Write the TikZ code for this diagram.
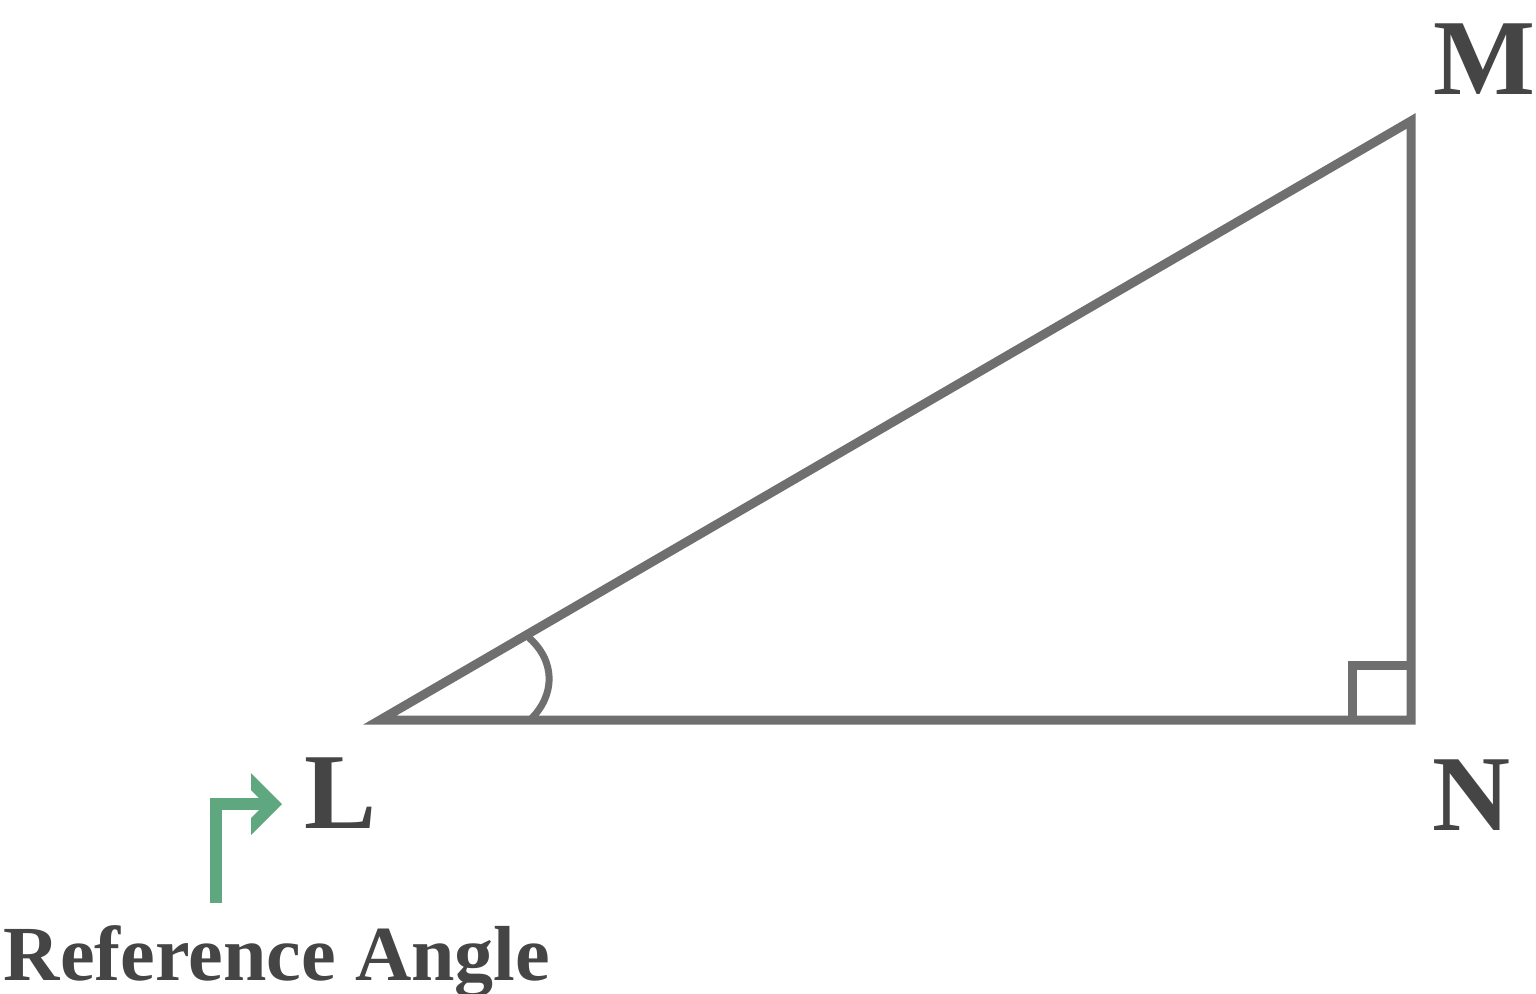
\documentclass[tikz,border=0pt]{standalone}
\usepackage{fontspec}
\setmainfont{Liberation Serif}
\usetikzlibrary{positioning,arrows.meta}
\definecolor{sidegray}{HTML}{6F6F6F}
\definecolor{labelgray}{HTML}{454545}
\definecolor{refgreen}{HTML}{5FA77F}

\begin{document}
\begin{tikzpicture}[x=0.5pt, y=-0.5pt,
    side/.style={draw=sidegray, line width=4.5pt, line join=miter},
    vlabel/.style={text=labelgray, font=\fontsize{54}{60}\selectfont\bfseries, inner sep=0pt, anchor=base},
    pointer/.style={draw=refgreen, line width=6pt, line join=miter, shorten >=6pt}]

    \useasboundingbox (0,0) rectangle (1536,994);

    \coordinate (L) at (380,720);
    \coordinate (N) at (1411,720);
    \coordinate (M) at (1411,121);
    \coordinate (sq) at (1352,665);

    \draw[side] (L) -- (N) -- (M) -- cycle;
    \draw[side] (sq |- N) |- (sq -| N);
    \draw[side, line width=3.5pt] (527,636) .. controls (556,660) and (556,695) .. (530,720);

    \node[vlabel] (lm) at (1484,95) {M};
    \node[vlabel] (ll) at (341,828) {L};
    \node[vlabel] (ln) at (1471,830) {N};
    \node[vlabel, font=\fontsize{39}{46}\selectfont\bfseries] (refangle) at (277,980) {Reference Angle};

    \coordinate (tail) at (216,903);
    \coordinate (head) at (282,804);
    \draw[pointer] (tail) |- (head);
    % arrow head
    \fill[refgreen, shift={(head)}] (-31,-31) -- (0,0) -- (-31,31) -- (-31,14) -- (-17,0) -- (-31,-14) -- cycle;

\end{tikzpicture}
\end{document}
